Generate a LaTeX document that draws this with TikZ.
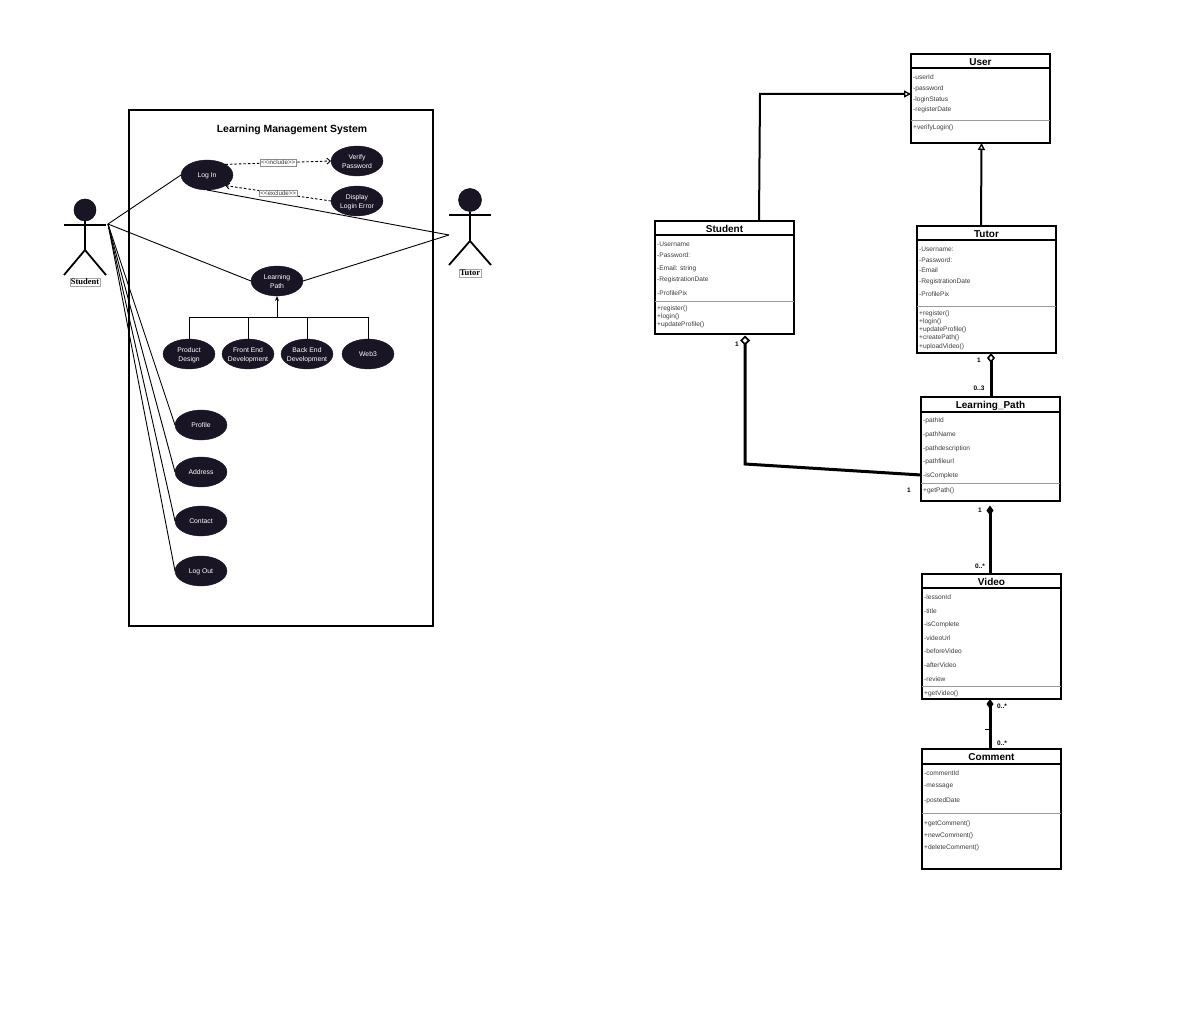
\documentclass[tikz,border=0pt]{standalone}
\usepackage{fontspec}
\setmainfont{Liberation Sans}
\newfontfamily\actorfont{Liberation Serif}
\usepackage{xcolor}
\usepackage{tikz}
\usetikzlibrary{arrows.meta, positioning, calc, shapes.geometric}
\definecolor{usecasefill}{HTML}{1A1525}
\definecolor{textgray}{HTML}{3A3A3A}
\tikzset{
  usecase/.style={draw=usecasefill, ellipse, fill=usecasefill, text=white, align=center, font=\fontsize{6.8}{8.5}\selectfont, minimum width=52pt, minimum height=30pt, inner sep=-6pt, outer sep=0pt, text height=7pt, text depth=1.5pt},
  usecasetwo/.style={usecase, text height=15.6pt},
  assoc/.style={draw=black, line width=0.9pt},
  depend/.style={-{Straight Barb[length=3.5pt, width=6pt]}, line width=0.9pt, dash pattern=on 2.5pt off 2pt},
  stereo/.style={draw=black!45, line width=0.3pt, fill=white, inner sep=0.8pt, font=\fontsize{6.2}{7}\selectfont, text=textgray, solid},
  actorline/.style={line width=2.2pt},
  actorbody/.style={line width=1.8pt},
  actorlabel/.style={draw=black!35, line width=0.3pt, fill=white, inner sep=1pt, font=\actorfont\bfseries\fontsize{8.5}{9}\selectfont},
  classbox/.style={draw, line width=1.5pt, anchor=north west, inner sep=0pt, outer sep=0pt},
  classtitle/.style={font=\bfseries\fontsize{10}{11}\selectfont, inner sep=0pt, text height=7.2pt, text depth=2.2pt},
  member/.style={anchor=west, inner sep=0pt, yshift=-0.5pt, font=\fontsize{6.6}{8}\selectfont, text=textgray},
  rule/.style={draw=black!40, line width=0.5pt},
  inherit/.style={-{Triangle[open, length=7pt, width=7pt, line width=1.3pt]}, line width=2pt},
  aggr/.style={{Diamond[open, length=10pt, width=10pt, line width=1.6pt]}-, line width=3pt},
  aggrsmall/.style={{Diamond[open, length=10pt, width=8pt, line width=1.6pt]}-, line width=3pt},
  comp/.style={{Diamond[length=10pt, width=7pt]}-, line width=3pt},
  mult/.style={font=\bfseries\fontsize{6.5}{8}\selectfont, inner sep=0pt}
}
\begin{document}
\begin{tikzpicture}[x=1pt,y=-1pt]
    \useasboundingbox (0,0) rectangle (1200,1035);
    % use case side
    \node[draw, line width=1.5pt, minimum width=304pt, minimum height=516pt, inner sep=0pt, outer sep=0pt, anchor=north west] (system) at (129,110) {};
    \node[font=\bfseries\fontsize{10.4}{12}\selectfont, inner sep=0pt] (systitle) at (292,129.5) {Learning Management System};

    \node[usecase] (login) at (207,175) {Log In};
    \node[usecasetwo] (verify) at (357,161) {Verify\\Password};
    \node[usecasetwo] (display) at (357,201) {Display\\Login Error};
    \node[usecasetwo] (path) at (277,281) {Learning\\Path};
    \node[usecasetwo] (product) at (189,354) {Product\\Design};
    \node[usecasetwo] (front) at (248,354) {Front End\\Development};
    \node[usecasetwo] (back) at (307,354) {Back End\\Development};
    \node[usecase] (web) at (368,354) {Web3};
    \node[usecase] (profile) at (201,425) {Profile};
    \node[usecase] (address) at (201,472) {Address};
    \node[usecase] (contact) at (201,521) {Contact};
    \node[usecase] (logout) at (201,571) {Log Out};

    % student actor
    \node[circle, draw, fill=usecasefill, line width=0.5pt, minimum size=22pt, inner sep=0pt] (studenthead) at (85,210) {};
    \coordinate (studentneck) at (85,250);
    \coordinate (studenthand) at (108,224);
    \draw[actorline] (64,225) -- (106,225);
    \draw[actorbody] (studenthead) -- (studentneck);
    \draw[actorbody] (64,275) -- (studentneck) -- (106,275);
    \node[actorlabel] (studentlabel) at (85,282) {Student};

    % tutor actor
    \node[circle, draw, fill=usecasefill, line width=0.5pt, minimum size=23pt, inner sep=0pt] (tutorhead) at (470,200) {};
    \coordinate (tutorneck) at (470,241);
    \coordinate (tutorhand) at (449,235);
    \draw[actorbody] (449,215) -- (491,215);
    \draw[actorbody] (tutorhead) -- (tutorneck);
    \draw[actorbody] (449,265) -- (tutorneck) -- (491,265);
    \node[actorlabel] (tutorlabel) at (470,273) {Tutor};

    \draw[assoc] (studenthand) -- (login.west);
    \draw[assoc] (studenthand) -- (path.west);
    \draw[assoc] (studenthand) -- (profile.west);
    \draw[assoc] (studenthand) -- (address.west);
    \draw[assoc] (studenthand) -- (contact.west);
    \draw[assoc] (studenthand) -- (logout.west);
    \draw[assoc] (tutorhand) -- (login.south);
    \draw[assoc] (tutorhand) -- (path.east);

    \draw[depend] (login.30) -- (verify.west) node[stereo, pos=0.5] (includelabel) {<{}<include>{}>};
    \draw[depend] (display.west) -- (login.-30) node[stereo, pos=0.5] (excludelabel) {<{}<exclude>{}>};

    \coordinate (treejoin) at (277,317);
    \draw[assoc] (product.north) |- (treejoin);
    \draw[assoc] (front.north) |- (treejoin);
    \draw[assoc] (back.north) |- (treejoin);
    \draw[assoc] (web.north) |- (treejoin);
    \draw[assoc, -{Stealth[length=5pt, width=4pt]}] (treejoin) -- (path.south);

    % class side
    \node[classbox, minimum width=139pt, minimum height=89pt] (user) at (911,54) {};
    \node[classbox, minimum width=139pt, minimum height=113pt] (student) at (655,221) {};
    \node[classbox, minimum width=139pt, minimum height=127pt] (tutor) at (917,226) {};
    \node[classbox, minimum width=139pt, minimum height=104pt] (learning) at (921,397) {};
    \node[classbox, minimum width=139pt, minimum height=125pt] (video) at (922,574) {};
    \node[classbox, minimum width=139pt, minimum height=120pt] (comment) at (922,749) {};

    \foreach \name/\label/\tline/\sline in {user/User/68/120, student/Student/235/301, tutor/Tutor/240/306, learning/Learning\_Path/412/483, video/Video/588/686, comment/Comment/764/813}{
      \node[classtitle] (\name title) at ($(\name.north)+(0,8.6)$) {\label};
      \draw[line width=1.2pt] (\name.west |- 0,\tline) -- (\name.east |- 0,\tline);
      \draw[rule] (\name.west |- 0,\sline) -- (\name.east |- 0,\sline);
    }

    \foreach \ty/\txt [count=\i] in {77/-userId, 88/-password, 99/-loginStatus, 109/-registerDate, 127/+verifyLogin()}
      \node[member] (usermem\i) at (913,\ty) {\txt};
    \foreach \ty/\txt [count=\i] in {244/-Username, 255/-Password:, 268/-Email: string, 279/-RegistrationDate, 293/-ProfilePix, 308/+register(), 316/+login(), 324/+updateProfile()}
      \node[member] (studentmem\i) at (657,\ty) {\txt};
    \foreach \ty/\txt [count=\i] in {249/-Username:, 260/-Password:, 270/-Email, 281/-RegistrationDate, 294/-ProfilePix, 313/+register(), 321/+login(), 329/+updateProfile(), 337/+createPath(), 346/+uploadVideo()}
      \node[member] (tutormem\i) at (919,\ty) {\txt};
    \foreach \ty/\txt [count=\i] in {420/-pathId, 434/-pathName, 448/-pathdescription, 461/-pathfileurl, 475/-isComplete, 490/+getPath()}
      \node[member] (learningmem\i) at (923,\ty) {\txt};
    \foreach \ty/\txt [count=\i] in {597/-lessonId, 611/-title, 624/-isComplete, 638/-videoUrl, 651/-beforeVideo, 665/-afterVideo, 679/-review, 693/+getVideo()}
      \node[member] (videomem\i) at (924,\ty) {\txt};
    \foreach \ty/\txt [count=\i] in {773/-commentId, 786/-message, 800/-postedDate, 823/+getComment(), 835/+newComment(), 847/+deleteComment()}
      \node[member] (commentmem\i) at (924,\ty) {\txt};

    \coordinate (studentbend) at (760,94);
    \coordinate (aggrbend) at (745,464);
    \coordinate (aggrend) at (745,335.5);
    \coordinate (compstart) at (990,505.5);
    \draw[inherit] (student.north -| 759,0) -- (studentbend) -- (user.west |- studentbend);
    \draw[inherit] (tutor.north -| 981,0) -- (user.south -| 981.5,0);
    \draw[aggr] (aggrend) -- (aggrbend) -- (learning.west |- 0,475);
    \draw[aggrsmall] (tutor.south -| 991,0) -- (learning.north -| 991,0);
    \draw[comp] (compstart) -- (video.north -| 990,0);
    \draw[comp] (video.south -| 990,0) -- (comment.north -| 990,0);
    \draw[line width=0.8pt] (985,729) -- (990,729);

    \node[mult] (multa) at (737,344) {1};
    \node[mult] (multb) at (979,360) {1};
    \node[mult] (multc) at (979,388) {0..3};
    \node[mult] (multd) at (909,490) {1};
    \node[mult] (multe) at (980,510) {1};
    \node[mult] (multf) at (980,566) {0..*};
    \node[mult] (multg) at (1002,706) {0..*};
    \node[mult] (multh) at (1002,743) {0..*};
\end{tikzpicture}
\end{document}
